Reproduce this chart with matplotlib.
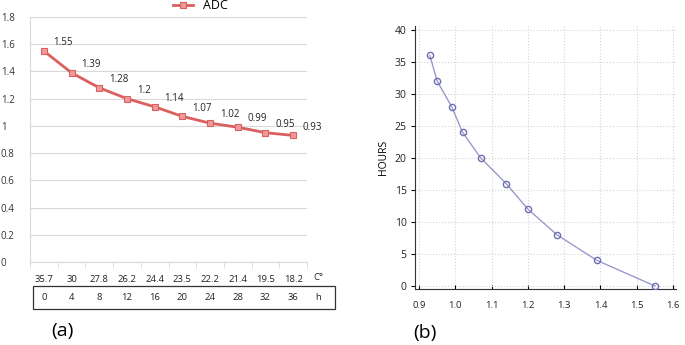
import matplotlib
matplotlib.use('Agg')
import matplotlib.pyplot as plt
import matplotlib.transforms as mtrans
from matplotlib.patches import Rectangle
import numpy as np

plt.rcParams['font.family'] = ['Open Sans', 'DejaVu Sans']

# data
adc = [1.55, 1.39, 1.28, 1.2, 1.14, 1.07, 1.02, 0.99, 0.95, 0.93]
temps = ['35.7', '30', '27.8', '26.2', '24.4', '23.5', '22.2', '21.4', '19.5', '18.2']
hours = [0, 4, 8, 12, 16, 20, 24, 28, 32, 36]
y_ticks_a = [0, 0.2, 0.4, 0.6, 0.8, 1, 1.2, 1.4, 1.6, 1.8]
y_labels_a = ['0', '0.2', '0.4', '0.6', '0.8', '1', '1.2', '1.4', '1.6', '1.8']

W, H = 685, 345
fig = plt.figure(figsize=(W / 100, H / 100), dpi=100)

def fx(px):
    return px / W

def fy(py):
    return 1 - py / H

# ---- panel (a) ----
ax = fig.add_axes([fx(30), fy(262), fx(307) - fx(30), fy(17) - fy(262)])
pos = np.arange(len(adc))
ax.plot(pos, adc, color='#d9605f', lw=2, marker='s', ms=5,
        mfc='#ee9a9a', mec='#d9605f', mew=0.8, label='ADC', zorder=3)
for p, v in zip(pos, adc):
    ax.annotate('%g' % v, (p, v), xytext=(7, 6), textcoords='offset points',
                fontsize=7, color='#222222', ha='left', va='center')
ax.set_xlim(-0.5, len(adc) - 0.5)
ax.set_ylim(0, 1.8)
ax.set_yticks(y_ticks_a)
ax.set_yticklabels(y_labels_a)
ax.grid(axis='y', color='#d9d9d9', lw=0.8)
ax.set_axisbelow(True)
for s in ['top', 'right']:
    ax.spines[s].set_visible(False)
ax.spines['left'].set_color('#d9d9d9')
ax.spines['bottom'].set_color('#d9d9d9')
ax.tick_params(axis='y', length=0, pad=21, labelsize=7, labelcolor='#333333')
for t in ax.get_yticklabels():
    t.set_horizontalalignment('left')
ax.set_xticks(pos)
ax.set_xticklabels(temps)
ax.set_xticks(np.arange(-0.5, len(adc), 1), minor=True)
ax.tick_params(axis='x', which='major', length=0, pad=9, labelsize=6.8, labelcolor='#222222')
ax.tick_params(axis='x', which='minor', length=4, color='#d9d9d9', direction='out')
fig.text(fx(313), fy(277), 'C°', fontsize=6.8, color='#222222', ha='left', va='center')
ax.legend(loc='center', bbox_to_anchor=(0.617, 1.045), frameon=False,
          fontsize=9, handlelength=1.6, borderaxespad=0.0, borderpad=0.1)

# hours row in a box
fig.add_artist(Rectangle((fx(33), fy(309)), fx(335) - fx(33), fy(286) - fy(309),
                         transform=fig.transFigure, fill=False, ec='#333333', lw=0.9))
row = mtrans.blended_transform_factory(ax.transData, fig.transFigure)
for p, h in zip(pos, hours):
    ax.text(p, fy(298), str(h), transform=row, fontsize=6.8, color='#222222',
            ha='center', va='center')
fig.text(fx(318), fy(298), 'h', fontsize=6.8, color='#222222', ha='center', va='center')
fig.text(fx(62), fy(331), '(a)', fontsize=14, ha='center', va='center')

# ---- panel (b) ----
bx = fig.add_axes([fx(415), fy(289), fx(676) - fx(415), fy(26) - fy(289)])
bx.plot(adc, hours, color='#9a9acc', lw=1.0, zorder=2)
bx.plot(adc, hours, ls='none', marker='o', ms=4.5, mfc='none', mec='#6f6fb0',
        mew=1.0, zorder=3)
bx.set_xlim(0.889, 1.608)
bx.set_ylim(-0.47, 40.6)
bx.set_xticks([0.9, 1.0, 1.1, 1.2, 1.3, 1.4, 1.5, 1.6])
bx.set_xticklabels(['0.9', '1.0', '1.1', '1.2', '1.3', '1.4', '1.5', '1.6'])
bx.set_yticks([0, 5, 10, 15, 20, 25, 30, 35, 40])
bx.grid(color='#d4d4d4', lw=0.8, ls=':')
bx.set_axisbelow(True)
for s in ['top', 'right']:
    bx.spines[s].set_visible(False)
bx.spines['left'].set_color('#333333')
bx.spines['bottom'].set_color('#333333')
bx.tick_params(axis='x', direction='in', length=3, pad=9, labelsize=6.8, labelcolor='#222222')
bx.tick_params(axis='y', direction='out', length=3, pad=3, labelsize=7.5, labelcolor='#222222')
bx.set_ylabel('HOURS', fontsize=7.5, labelpad=4)
fig.text(fx(425), fy(333), '(b)', fontsize=14, ha='center', va='center')

fig.savefig('out.png', dpi=100)
